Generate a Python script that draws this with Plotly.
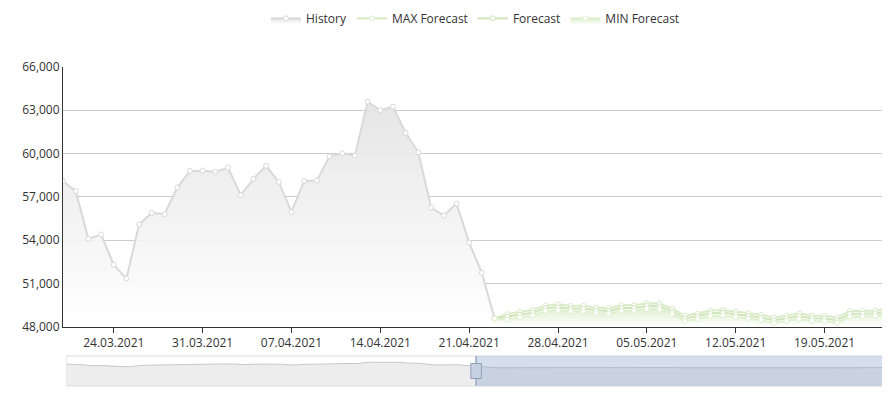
import plotly.graph_objects as go
import pandas as pd

hist_dates = pd.date_range("2021-03-20", "2021-04-23", freq="D")
hist_vals = [58100, 57400, 54100, 54400, 52300, 51350, 55100, 55900, 55800, 57650,
             58800, 58820, 58750, 59030, 57120, 58250, 59150, 58040, 55960, 58100,
             58130, 59800, 60020, 59860, 63600, 63000, 63250, 61430, 60090, 56260,
             55710, 56540, 53840, 51740, 48580]
fc_dates = pd.date_range("2021-04-23", "2021-05-24", freq="D")
fc_vals = [48580, 48690, 48850, 48990, 49290, 49360, 49270, 49270, 49150, 49110,
           49310, 49310, 49450, 49430, 49080, 48600, 48740, 48950, 48990, 48880,
           48760, 48650, 48460, 48600, 48740, 48600, 48580, 48460, 48920, 48920,
           48950, 49080]
fc_max = [v if i == 0 else v + 190 for i, v in enumerate(fc_vals)]
fc_min = [v if i == 0 else v - 190 for i, v in enumerate(fc_vals)]

fig = go.Figure()
fig.add_trace(go.Scatter(x=hist_dates, y=hist_vals, name="History", mode="lines+markers",
    line=dict(color="#d9d9d9", width=2), marker=dict(size=5, color="white", line=dict(color="#d9d9d9", width=1)),
    fill="tozeroy", fillgradient=dict(type="vertical", start=48000, stop=64000,
        colorscale=[[0, "rgba(255,255,255,0.9)"], [1, "rgba(228,228,228,0.95)"]])))
green = "#cfe5bb"
fig.add_trace(go.Scatter(x=fc_dates, y=fc_max, name="MAX Forecast", mode="lines+markers",
    line=dict(color="#d9ecc8", width=2), marker=dict(size=5, color="white", line=dict(color="#d9ecc8", width=1))))
fig.add_trace(go.Scatter(x=fc_dates, y=fc_vals, name="Forecast", mode="lines+markers",
    line=dict(color=green, width=2), marker=dict(size=5, color="white", line=dict(color=green, width=1))))
fig.add_trace(go.Scatter(x=fc_dates, y=fc_min, name="MIN Forecast", mode="lines+markers",
    line=dict(color="#dff0cf", width=2), marker=dict(size=5, color="white", line=dict(color="#dff0cf", width=1)),
    fill="tozeroy", fillgradient=dict(type="vertical", start=48000, stop=49400,
        colorscale=[[0, "rgba(255,255,255,0.9)"], [1, "rgba(218,236,200,0.9)"]])))

all_dates = list(hist_dates) + list(fc_dates[1:])
all_vals = hist_vals + fc_vals[1:]
fig.add_trace(go.Scatter(x=all_dates, y=all_vals, xaxis="x2", yaxis="y2", mode="lines", showlegend=False,
    line=dict(color="#c8c8c8", width=1), fill="tozeroy", fillcolor="rgba(225,225,225,0.6)", hoverinfo="skip"))

sel0, sel1 = "2021-04-21 10:00", "2021-05-24"
fig.update_layout(
    width=890, height=400, paper_bgcolor="white", plot_bgcolor="white",
    margin=dict(l=55, r=10, t=50, b=20, autoexpand=False),
    font=dict(family="Open Sans, Noto Sans, sans-serif", size=12, color="#333"),
    legend=dict(orientation="h", x=0.5, xanchor="center", y=1.12, yanchor="middle",
                font=dict(size=12, color="#333")),
    xaxis=dict(domain=[0, 1], range=["2021-03-20", "2021-05-24"], tickformat="%d.%m.%Y",
               tick0="2021-03-24", dtick=7 * 86400000, ticks="outside", ticklen=5, tickcolor="#333",
               showline=True, linecolor="#333", showgrid=False, tickfont=dict(color="#333")),
    yaxis=dict(domain=[0.185, 0.973], range=[48000, 66000], tick0=48000, dtick=3000, tickformat=",",
               showline=True, linecolor="#333", gridcolor="#ccc", zeroline=False, tickfont=dict(color="#333")),
    xaxis2=dict(domain=[0.004, 1], anchor="y2", range=["2021-03-20", "2021-05-24"], visible=False),
    yaxis2=dict(domain=[0.006, 0.097], anchor="x2", range=[0, 80000], visible=False),
    shapes=[
        dict(type="rect", xref="x2", yref="y2 domain", x0="2021-03-20", x1="2021-05-24", y0=0, y1=1,
             line=dict(color="#ddd", width=1), fillcolor="rgba(0,0,0,0)"),
        dict(type="rect", xref="x2", yref="y2 domain", x0=sel0, x1=sel1, y0=0, y1=1,
             line=dict(width=0), fillcolor="rgba(135,160,200,0.35)"),
        dict(type="line", xref="x2", yref="y2 domain", x0=sel0, x1=sel0, y0=0, y1=1, line=dict(color="#a7b7cc", width=2)),
        dict(type="line", xref="x2", yref="y2 domain", x0=sel1, x1=sel1, y0=0, y1=1, line=dict(color="#a7b7cc", width=2)),
        dict(type="rect", xref="x2", yref="y2 domain", x0="2021-04-21 00:00", x1="2021-04-21 20:00", y0=0.25, y1=0.75,
             line=dict(color="#8fa0b8", width=1), fillcolor="#c5d1e0"),
        dict(type="rect", xref="x2", yref="y2 domain", x0="2021-05-23 14:00", x1="2021-05-24 10:00", y0=0.25, y1=0.75,
             line=dict(color="#8fa0b8", width=1), fillcolor="#c5d1e0"),
    ],
)
fig.write_html("out.html")
